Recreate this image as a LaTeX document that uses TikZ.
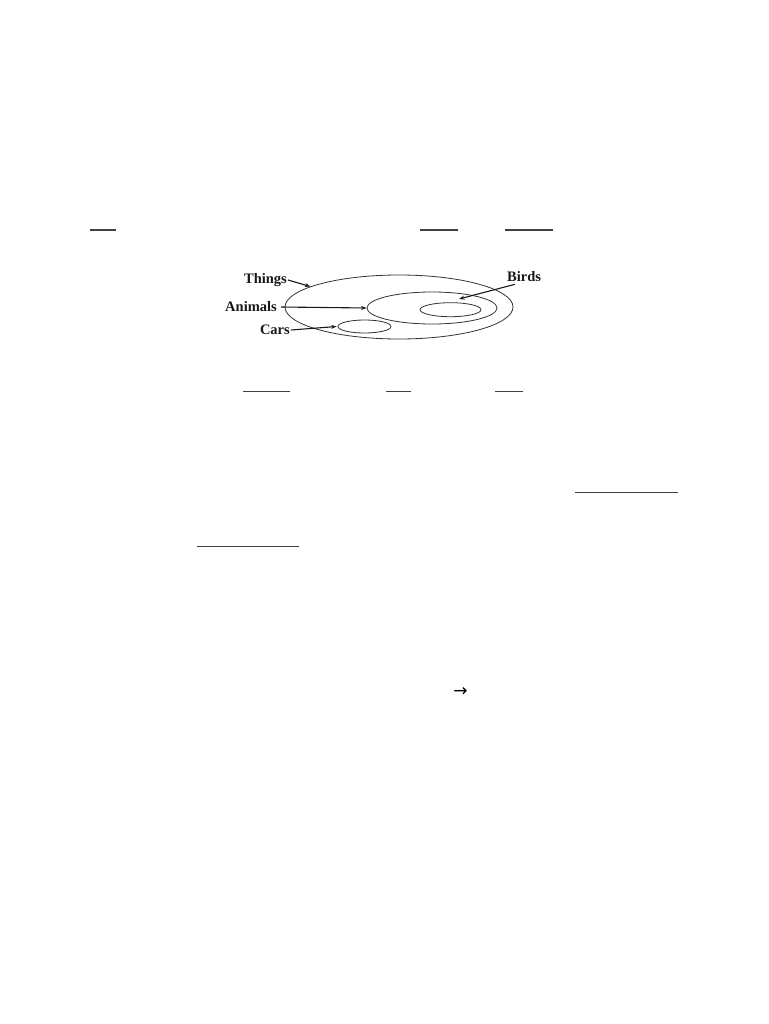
\documentclass[tikz,border=0pt]{standalone}
\usepackage{fontspec}
\setmainfont{Liberation Serif}
\newfontfamily\symfont{DejaVu Sans}
\usetikzlibrary{shapes.geometric,arrows.meta}
\begin{document}
\begin{tikzpicture}[x=1pt,y=-1pt,
  setshape/.style={ellipse,draw=black!80,line width=0.8pt,inner sep=0pt},
  lbl/.style={font=\fontsize{14.5}{16}\selectfont\bfseries,inner sep=1pt,text=black!90},
  ptr/.style={draw=black!90,line width=1.1pt,-{Stealth[length=5.5pt,width=4pt]}},
  uline/.style={draw=black!75,line width=1.3pt}]
\useasboundingbox[fill=white] (0,0) rectangle (768,1024);
% sets
\node[setshape,minimum width=228pt,minimum height=64pt] (things) at (399,307) {};
\node[setshape,minimum width=130pt,minimum height=32pt] (animals) at (432,308) {};
\node[setshape,minimum width=61pt,minimum height=14pt] (birds) at (450.5,309.7) {};
\node[setshape,minimum width=53pt,minimum height=13pt] (cars) at (364.5,326.5) {};
% labels
\node[lbl,anchor=east] (lthings) at (288,280) {Things};
\node[lbl,anchor=east] (lanimals) at (278,307) {Animals};
\node[lbl,anchor=east] (lcars) at (291,330) {Cars};
\node[lbl,anchor=west] (lbirds) at (506,277) {Birds};
\coordinate (birdtip) at (459,299);
% pointers
\draw[ptr] (lthings.east) -- (things.167);
\draw[ptr] ([xshift=3pt]lanimals.east) -- (animals.west);
\draw[ptr] (lcars.east) -- ([xshift=-1pt]cars.west);
\draw[ptr] ([xshift=9pt,yshift=-1pt]lbirds.south west) -- (birdtip);
% underlines
\draw[uline] (90,230) -- (115.7,230);
\draw[uline] (420,230) -- (457.7,230);
\draw[uline] (505,230) -- (553,230);
\draw[uline] (243,391.7) -- (290,391.7);
\draw[uline] (386,391.7) -- (410.7,391.7);
\draw[uline] (495,391.7) -- (523,391.7);
\draw[uline] (575,492.3) -- (677.7,492.3);
\draw[uline] (196.7,546.7) -- (299,546.7);
% arrow glyph
\node[inner sep=0pt,font=\symfont\fontsize{17}{18}\selectfont] (arrowglyph) at (460.5,692) {→};
\end{tikzpicture}
\end{document}
